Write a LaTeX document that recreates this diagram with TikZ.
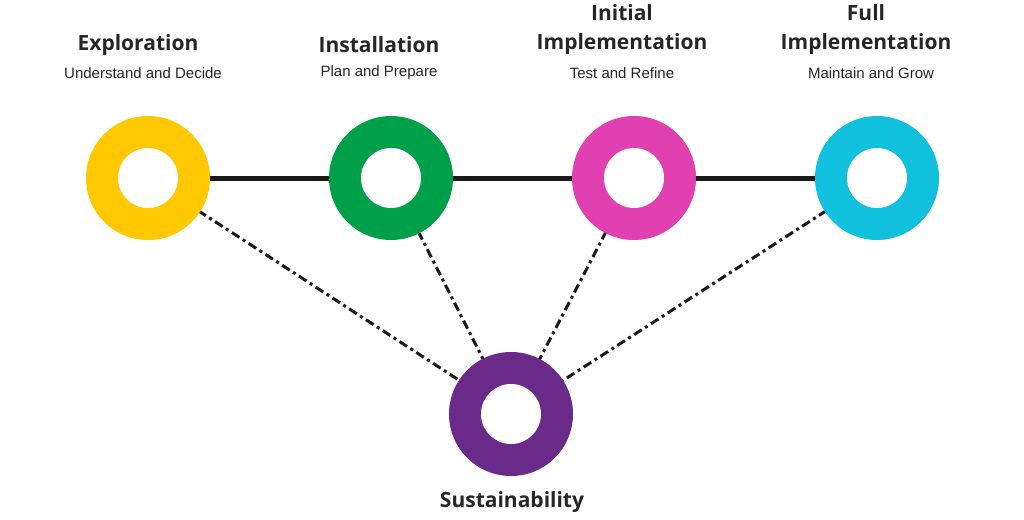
\documentclass[tikz,border=0pt]{standalone}
\usepackage{fontspec}
\setmainfont{Liberation Sans}
\newfontfamily\titlefont{Open Sans}
\definecolor{cy}{HTML}{FFC800}
\definecolor{cg}{HTML}{00A04B}
\definecolor{cp}{HTML}{E040B0}
\definecolor{cc}{HTML}{10C0DC}
\definecolor{cv}{HTML}{6A2A8A}
\begin{document}
\begin{tikzpicture}[x=1pt,y=-1pt,
  ring/.style={circle,minimum size=124pt,inner sep=0pt,line width=0pt},
  ttl/.style={font=\titlefont\bfseries\fontsize{21}{29}\selectfont,align=center,text=black!85},
  sub/.style={font=\fontsize{15}{18}\selectfont,text=black!85},
  solidline/.style={line width=5pt,black!90},
  dashline/.style={line width=3pt,black!90,dash pattern=on 9pt off 4pt on 3pt off 4pt}]
\useasboundingbox (0,0) rectangle (1024,519);
\fill[white] (0,0) rectangle (1024,519);
\coordinate (a) at (148,178);
\coordinate (b) at (391,178);
\coordinate (c) at (634,178);
\coordinate (d) at (877,178);
\coordinate (e) at (511,414);
\draw[solidline] (a) -- (b) -- (c) -- (d);
\draw[dashline] (a) -- (e);
\draw[dashline] (b) -- (e);
\draw[dashline] (c) -- (e);
\draw[dashline] (d) -- (e);
\foreach \p/\col in {a/cy,b/cg,c/cp,d/cc,e/cv}{
  \fill[\col] (\p) circle (62);
  \fill[white] (\p) circle (30);
}
\node[ttl] (t1) at (138,45) {Exploration};
\node[sub] (s1) at (143,73) {Understand and Decide};
\node[ttl] (t2) at (379,45) {Installation};
\node[sub] (s2) at (379,73) {Plan and Prepare};
\node[ttl] (t3) at (622,30) {Initial\\Implementation};
\node[sub] (s3) at (622,73) {Test and Refine};
\node[ttl] (t4) at (866,30) {Full\\Implementation};
\node[sub] (s4) at (871,73) {Maintain and Grow};
\node[ttl] (t5) at (512,502) {Sustainability};
\end{tikzpicture}
\end{document}
